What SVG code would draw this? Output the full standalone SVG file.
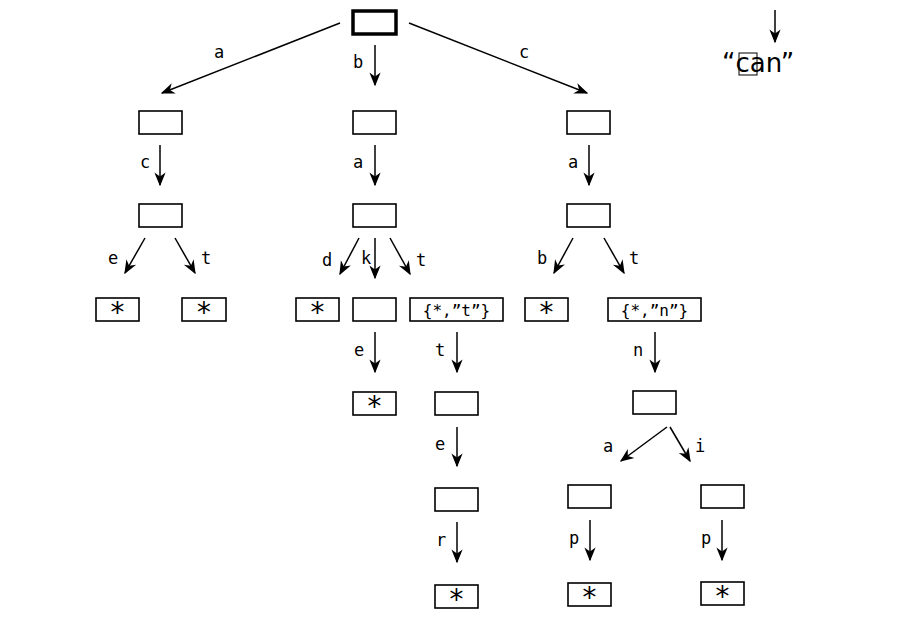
<svg xmlns="http://www.w3.org/2000/svg" width="900" height="635" viewBox="0 0 900 635">
<style>
.n{fill:#fff;stroke:#000;stroke-width:1.6}
.e{stroke:#000;stroke-width:1.5;fill:none;marker-end:url(#ah)}
text{font-family:"DejaVu Sans Mono",monospace;font-size:17px;fill:#000}
.l{text-anchor:middle}
.s{font-size:28px;text-anchor:middle}
.v{font-size:16px;text-anchor:middle}
</style>
<defs><marker id="ah" viewBox="0 0 10 10" refX="9" refY="5" markerWidth="9" markerHeight="9" markerUnits="userSpaceOnUse" orient="auto"><path d="M0,0L10,5L0,10L3,5z" fill="#000"/></marker>
<marker id="ah2" viewBox="0 0 10 10" refX="9" refY="5" markerWidth="14" markerHeight="14" markerUnits="userSpaceOnUse" orient="auto"><path d="M0,1L10,5L0,9L3,5z" fill="#000"/></marker></defs>
<style>.e{marker-end:url(#ah2)}</style>
<g id="root"><rect x="353" y="11" width="43" height="23" fill="#fff" stroke="#000" stroke-width="3.5"/></g>
<g id="a"><rect class="n" x="139" y="111" width="43" height="23"/></g>
<g id="b"><rect class="n" x="353" y="111" width="43" height="23"/></g>
<g id="c"><rect class="n" x="567" y="111" width="43" height="23"/></g>
<g id="ac"><rect class="n" x="139" y="204" width="43" height="23"/></g>
<g id="ba"><rect class="n" x="353" y="204" width="43" height="23"/></g>
<g id="ca"><rect class="n" x="567" y="204" width="43" height="23"/></g>
<g id="ace"><rect class="n" x="96" y="298" width="43" height="23"/><text class="s" x="117.5" y="322">*</text></g>
<g id="act"><rect class="n" x="182" y="298" width="44" height="23"/><text class="s" x="204" y="322">*</text></g>
<g id="bad"><rect class="n" x="296" y="298" width="43" height="23"/><text class="s" x="317.5" y="322">*</text></g>
<g id="bak"><rect class="n" x="353" y="298" width="43" height="23"/></g>
<g id="bat"><rect class="n" x="410" y="298" width="93" height="23"/><text class="v" x="456.5" y="316">{*,”t”}</text></g>
<g id="cab"><rect class="n" x="525" y="298" width="43" height="23"/><text class="s" x="546.5" y="322">*</text></g>
<g id="cat"><rect class="n" x="608" y="298" width="93" height="23"/><text class="v" x="654.5" y="316">{*,”n”}</text></g>
<g id="bake"><rect class="n" x="353" y="392" width="43" height="23"/><text class="s" x="374.5" y="416">*</text></g>
<g id="batt"><rect class="n" x="435" y="392" width="43" height="23"/></g>
<g id="catn"><rect class="n" x="633" y="391" width="43" height="23"/></g>
<g id="batte"><rect class="n" x="435" y="488" width="43" height="23"/></g>
<g id="catna"><rect class="n" x="568" y="485" width="43" height="23"/></g>
<g id="catni"><rect class="n" x="701" y="485" width="43" height="23"/></g>
<g id="batter"><rect class="n" x="435" y="585" width="43" height="23"/><text class="s" x="456.5" y="609">*</text></g>
<g id="catnap"><rect class="n" x="568" y="583" width="43" height="23"/><text class="s" x="589.5" y="607">*</text></g>
<g id="catnip"><rect class="n" x="701" y="582" width="43" height="23"/><text class="s" x="722.5" y="606">*</text></g>
<g id="connectors">
<path class="e" d="M340,23L162,93"/><path class="e" d="M375,45V85"/><path class="e" d="M409,23L587,93"/>
<path class="e" d="M160,145V185"/><path class="e" d="M375,145V185"/><path class="e" d="M589,145V185"/>
<path class="e" d="M145,238L125,273"/><path class="e" d="M175,238L195,273"/>
<path class="e" d="M359,238L340,274"/><path class="e" d="M375,238V278"/><path class="e" d="M390,238L410,274"/>
<path class="e" d="M573,238L554,273"/><path class="e" d="M604,238L624,273"/>
<path class="e" d="M375,332V372"/><path class="e" d="M457,332V372"/><path class="e" d="M655,332V372"/>
<path class="e" d="M457,427V466"/><path class="e" d="M667,427L621,461"/><path class="e" d="M670,427L690,461"/>
<path class="e" d="M457,522V562"/><path class="e" d="M590,520V560"/><path class="e" d="M722,520V560"/>
<path class="e" d="M775,10V42"/>
</g>
<g id="labels">
<text class="l" x="219" y="58">a</text><text class="l" x="358" y="68">b</text><text class="l" x="524" y="58">c</text>
<text class="l" x="145" y="168">c</text><text class="l" x="358" y="168">a</text><text class="l" x="573" y="168">a</text>
<text class="l" x="113" y="264">e</text><text class="l" x="206" y="264">t</text>
<text class="l" x="327" y="266">d</text><text class="l" x="366" y="264">k</text><text class="l" x="421" y="266">t</text>
<text class="l" x="542" y="264">b</text><text class="l" x="634" y="264">t</text>
<text class="l" x="359" y="356">e</text><text class="l" x="440" y="356">t</text><text class="l" x="638" y="356">n</text>
<text class="l" x="440" y="450">e</text><text class="l" x="608" y="452">a</text><text class="l" x="700" y="452">i</text>
<text class="l" x="441" y="546">r</text><text class="l" x="574" y="544">p</text><text class="l" x="706" y="544">p</text>
</g>
<g id="legend">
<text x="722" y="72" style="font-family:'DejaVu Sans',sans-serif;font-size:26px">“can”</text>
<rect x="739" y="53" width="18" height="22" fill="none" stroke="#000" stroke-width="1"/>
</g>
</svg>
